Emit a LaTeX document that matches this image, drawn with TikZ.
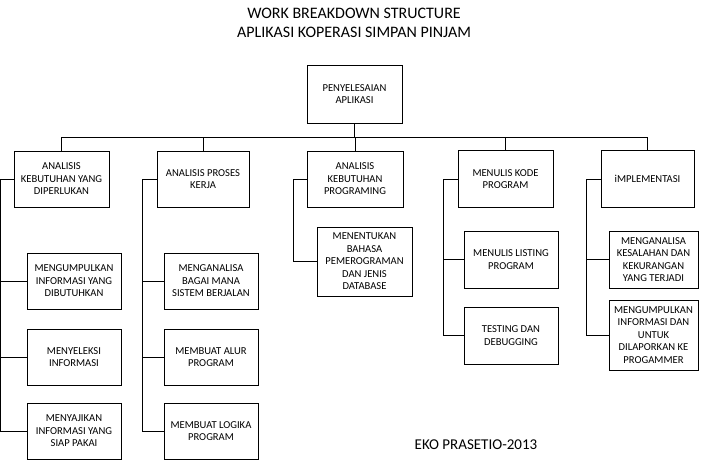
\documentclass[tikz,border=0pt]{standalone}
\usepackage{fontspec}
\setmainfont{Carlito}
\begin{document}
\begin{tikzpicture}[x=1pt,y=-1pt,
  box/.style={draw,line width=0.9pt,inner sep=0pt,align=center,
    font=\fontsize{10.6}{12.5}\selectfont},
  conn/.style={line width=0.9pt},
  ttl/.style={font=\fontsize{16}{19}\selectfont,inner sep=0pt}]
\useasboundingbox (0,0) rectangle (705,461);
% titles
\node[ttl] (t1) at (354,13) {WORK BREAKDOWN STRUCTURE};
\node[ttl] (t2) at (354,32) {APLIKASI KOPERASI SIMPAN PINJAM};
\node[font=\fontsize{15}{18}\selectfont,inner sep=0pt] (sig) at (476,445) {EKO PRASETIO-2013};
% top
\node[box,minimum width=95,minimum height=58] (top) at (354.5,94) {PENYELESAIAN\\APLIKASI};
% level 1
\node[box,minimum width=95,minimum height=56] (A1) at (61.5,179) {ANALISIS\\KEBUTUHAN YANG\\DIPERLUKAN};
\node[box,minimum width=92,minimum height=56] (A2) at (203,179) {ANALISIS PROSES\\KERJA};
\node[box,minimum width=96,minimum height=56] (A3) at (355,179) {ANALISIS\\KEBUTUHAN\\PROGRAMING};
\node[box,minimum width=95,minimum height=57] (A4) at (505.5,179) {MENULIS KODE\\PROGRAM};
\node[box,minimum width=93,minimum height=57] (A5) at (647.5,179) {iMPLEMENTASI};
% level 2 col 1
\node[box,minimum width=94,minimum height=56] (B1) at (74,281) {MENGUMPULKAN\\INFORMASI YANG\\DIBUTUHKAN};
\node[box,minimum width=94,minimum height=56] (B2) at (74,357) {MENYELEKSI\\INFORMASI};
\node[box,minimum width=94,minimum height=56] (B3) at (74,431) {MENYAJIKAN\\INFORMASI YANG\\SIAP PAKAI};
% col 2
\node[box,minimum width=94,minimum height=56] (C1) at (211,281) {MENGANALISA\\BAGAI MANA\\SISTEM BERJALAN};
\node[box,minimum width=94,minimum height=56] (C2) at (211,357) {MEMBUAT ALUR\\PROGRAM};
\node[box,minimum width=94,minimum height=56] (C3) at (211,431) {MEMBUAT LOGIKA\\PROGRAM};
% col 3
\node[box,minimum width=95,minimum height=69] (D1) at (364.5,261.5) {MENENTUKAN\\BAHASA\\PEMEROGRAMAN\\DAN JENIS\\DATABASE};
% col 4
\node[box,minimum width=94,minimum height=57] (E1) at (511,259.5) {MENULIS LISTING\\PROGRAM};
\node[box,minimum width=94,minimum height=57] (E2) at (511,335.5) {TESTING DAN\\DEBUGGING};
% col 5
\node[box,minimum width=89,minimum height=57] (F1) at (653.5,259.5) {MENGANALISA\\KESALAHAN DAN\\KEKURANGAN\\YANG TERJADI};
\node[box,minimum width=89,minimum height=70] (F2) at (653.5,335) {MENGUMPULKAN\\INFORMASI DAN\\UNTUK\\DILAPORKAN KE\\PROGAMMER};
% connectors top
\draw[conn] (top.south) -- ++(0,14) coordinate (j);
\foreach \n in {A1,A2,A3,A4,A5} \draw[conn] (j) -| (\n.north);
% sub connectors
\foreach \n in {B1,B2,B3} \draw[conn] (A1.west) -- ++(-13,0) |- (\n.west);
\foreach \n in {C1,C2,C3} \draw[conn] (A2.west) -- ++(-14,0) |- (\n.west);
\draw[conn] (A3.west) -- ++(-13,0) |- (D1.west);
\foreach \n in {E1,E2} \draw[conn] (A4.west) -- ++(-14,0) |- (\n.west);
\foreach \n in {F1,F2} \draw[conn] (A5.west) -- ++(-14,0) |- (\n.west);
\end{tikzpicture}
\end{document}
